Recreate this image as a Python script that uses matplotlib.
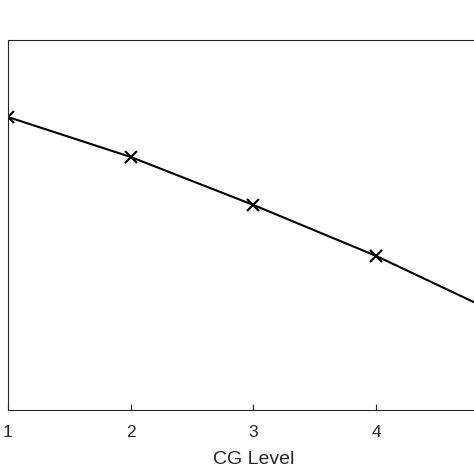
import matplotlib
matplotlib.use("Agg")
import matplotlib.pyplot as plt

# CG level vs. value (y units arbitrary)
cg_level = [1, 2, 3, 4, 5]
values = [293, 253, 205, 154, 96]
x_ticks = [1, 2, 3, 4, 5]

plt.rcParams["font.family"] = ["Liberation Sans", "DejaVu Sans"]

fig = plt.figure(figsize=(4.74, 4.74), dpi=100)
W, H = 474.0, 474.0
ax = fig.add_axes([8 / W, (H - 410) / H, (499 - 8) / W, (410 - 40) / H])

ax.plot(cg_level, values, color="black", linewidth=1.5, marker="x",
        markersize=9, markeredgewidth=1.5)

ax.set_xlim(1, 5)
ax.set_ylim(0, 370)
ax.set_xticks(x_ticks)
ax.set_yticks([])
ax.tick_params(axis="x", direction="in", length=4, labelsize=12.5,
               pad=11, color="#262626", labelcolor="#262626")
ax.set_xlabel("CG Level", fontsize=14, color="#262626", labelpad=8)
for s in ax.spines.values():
    s.set_color("#262626")
    s.set_linewidth(0.8)

fig.savefig("out.png", dpi=100)
